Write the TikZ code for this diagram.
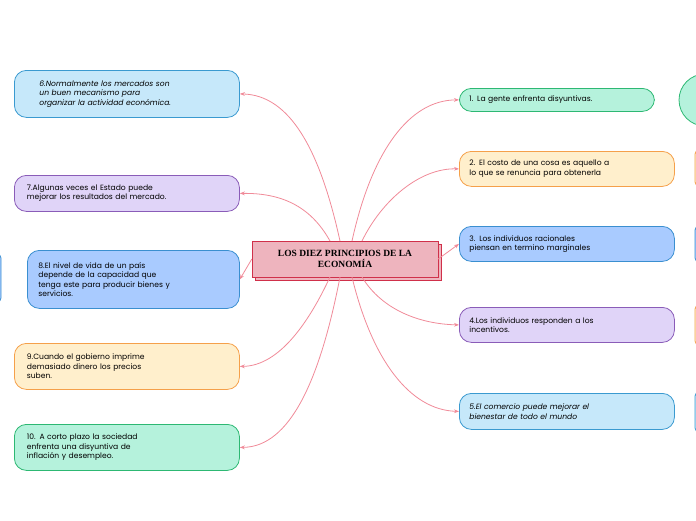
\documentclass[tikz,border=0pt]{standalone}
\usepackage{fontspec}
\setmainfont{Poppins}
\newfontfamily\titlefont{Liberation Serif}
\usetikzlibrary{arrows.meta,shadows}
\definecolor{lnk}{HTML}{F08A98}
\definecolor{gfill}{HTML}{B5F2DC}\definecolor{gdraw}{HTML}{2DB873}
\definecolor{ofill}{HTML}{FFEFCC}\definecolor{odraw}{HTML}{F5A04A}
\definecolor{bfill}{HTML}{A9CBFF}\definecolor{bdraw}{HTML}{3A8FD0}
\definecolor{pfill}{HTML}{E0D4F8}\definecolor{pdraw}{HTML}{8A5CB8}
\definecolor{cfill}{HTML}{C6E8FA}\definecolor{cdraw}{HTML}{3A9AD0}
\definecolor{rfill}{HTML}{EEB4BE}\definecolor{rdraw}{HTML}{D0304A}
\tikzset{
  idea/.style={rounded corners=12pt, thick, anchor=north west, inner xsep=10pt,
    align=left, font=\fontsize{7.6}{9.5}\selectfont},
  link/.style={lnk, thick, -{Stealth[length=5pt]}}
}
\begin{document}
\begin{tikzpicture}[x=1pt,y=-1pt]
  \useasboundingbox (0,0) rectangle (696,520);
  % cut-off shapes at the edges
  \begin{scope}
    \clip (0,0) rectangle (696,520);
    \draw[gdraw, thick, fill=gfill] (705,100) circle (26);
    \draw[odraw, thick, fill=ofill, rounded corners=4pt] (695,150) rectangle (720,186);
    \draw[bdraw, thick, fill=bfill, rounded corners=4pt] (695,226) rectangle (720,262);
    \draw[odraw, thick, fill=ofill, rounded corners=4pt] (695,305) rectangle (720,345);
    \draw[cdraw, thick, fill=cfill, rounded corners=4pt] (695,392) rectangle (720,432);
    \draw[bdraw, thick, fill=bfill, rounded corners=4pt] (-20,254) rectangle (1,302);
  \end{scope}

  % center
  \node[draw=rdraw, fill=rfill, minimum width=186, minimum height=36, align=center,
    font=\titlefont\bfseries\fontsize{9.5}{11}\selectfont,
    copy shadow={shadow xshift=3pt, shadow yshift=-3pt, draw=rdraw, fill=rfill}]
    (main) at (345,259) {LOS DIEZ PRINCIPIOS DE LA\\ECONOMÍA};

  % left ideas
  \node[idea, draw=cdraw, fill=cfill, minimum width=225, minimum height=47, text width=175, font=\itshape\fontsize{7.6}{9.5}\selectfont] (p6) at (14,70)
    {6.Normalmente los mercados son\\un buen mecanismo para\\organizar la actividad económica.};
  \node[idea, draw=pdraw, fill=pfill, minimum width=225, minimum height=36, text width=200] (p7) at (14,175)
    {7.Algunas veces el Estado puede\\mejorar los resultados del mercado.};
  \node[idea, draw=bdraw, fill=bfill, minimum width=212, minimum height=58, text width=190] (p8) at (27,250)
    {8.El nivel de vida de un país\\depende de la capacidad que\\tenga este para producir bienes y\\servicios.};
  \node[idea, draw=odraw, fill=ofill, minimum width=225, minimum height=46, text width=200] (p9) at (14,343)
    {9.Cuando el gobierno imprime\\demasiado dinero los precios\\suben.};
  \node[idea, draw=gdraw, fill=gfill, minimum width=225, minimum height=46, text width=200] (p10) at (14,424)
    {10. A corto plazo la sociedad\\enfrenta una disyuntiva de\\inflación y desempleo.};

  % right ideas
  \node[idea, draw=gdraw, fill=gfill, minimum width=195, minimum height=23, text width=175] (p1) at (459,88)
    {1. La gente enfrenta disyuntivas.};
  \node[idea, draw=odraw, fill=ofill, minimum width=212, minimum height=35, text width=195] (p2) at (459,151)
    {2. El costo de una cosa es aquello a\\lo que se renuncia para obtenerla};
  \node[idea, draw=bdraw, fill=bfill, minimum width=212, minimum height=35, text width=195] (p3) at (459,226)
    {3. Los individuos racionales\\piensan en termino marginales};
  \node[idea, draw=pdraw, fill=pfill, minimum width=212, minimum height=35, text width=195] (p4) at (459,307)
    {4.Los individuos responden a los\\incentivos.};
  \node[idea, draw=cdraw, fill=cfill, minimum width=212, minimum height=36, text width=195, font=\itshape\fontsize{7.6}{9.5}\selectfont] (p5) at (459,393)
    {5.El comercio puede mejorar el\\bienestar de todo el mundo};

  % links
  \draw[link] (340,241) .. controls (320,150) and (290,95) .. (p6.east);
  \draw[link] (330,241) .. controls (310,205) and (280,193) .. (p7.east);
  \draw[link] (main.west) -- (p8.east);
  \draw[link] (330,277) .. controls (310,320) and (280,366) .. (p9.east);
  \draw[link] (340,277) .. controls (320,380) and (290,447) .. (p10.east);
  \draw[link] (352,241) .. controls (372,150) and (410,100) .. (p1.west);
  \draw[link] (362,241) .. controls (382,200) and (420,168) .. (p2.west);
  \draw[link] (main.east) -- (p3.west);
  \draw[link] (362,277) .. controls (382,310) and (420,324) .. (p4.west);
  \draw[link] (352,277) .. controls (372,360) and (410,410) .. (p5.west);
\end{tikzpicture}
\end{document}
